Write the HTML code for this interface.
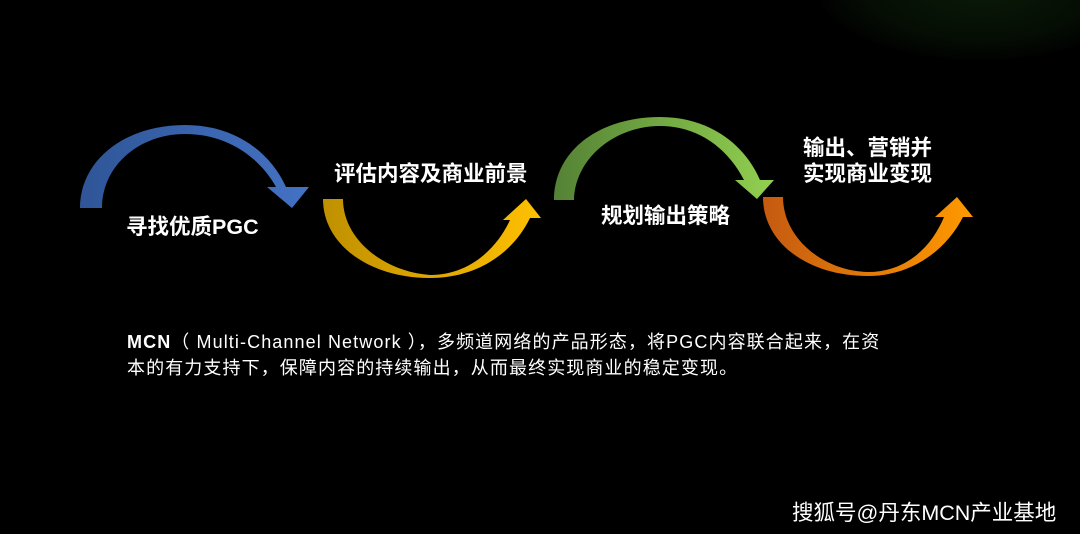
<!DOCTYPE html>
<html><head><meta charset="utf-8"><style>
body{margin:0;width:1080px;height:534px;background:#000;overflow:hidden;position:relative;font-family:"Liberation Sans","Noto Sans CJK SC",sans-serif;color:#fff}
.glow{position:absolute;left:820px;top:-80px;width:320px;height:140px;border-radius:50%;background:radial-gradient(ellipse at center,#0a1a08 0%,#050d04 50%,rgba(0,0,0,0) 75%)}
.t{position:absolute;font-weight:bold;font-size:21.5px;white-space:nowrap;line-height:26px}
.p{position:absolute;left:127px;top:329px;font-size:18px;letter-spacing:1.1px;line-height:26px;color:#fff;white-space:nowrap}
.w{position:absolute;left:792px;top:496px;font-size:21.5px;color:#fff}
</style></head><body>
<div class="glow"></div>
<svg width="1080" height="534" style="position:absolute;left:0;top:0">
<defs>
<linearGradient id="b" x1="0" x2="1"><stop offset="0" stop-color="#2f5597"/><stop offset="1" stop-color="#4472c4"/></linearGradient>
<linearGradient id="y" x1="0" x2="1"><stop offset="0" stop-color="#bf9000"/><stop offset="1" stop-color="#ffc000"/></linearGradient>
<linearGradient id="g" x1="0" x2="1"><stop offset="0" stop-color="#548235"/><stop offset="1" stop-color="#92d050"/></linearGradient>
<linearGradient id="o" x1="0" x2="1"><stop offset="0" stop-color="#c55a11"/><stop offset="1" stop-color="#ff9900"/></linearGradient>
</defs>
<path fill="url(#b)" d="M80,208 C80,160 125,125 185,125 C235,125 270,152 286,187 L309,187 L292,208 L267,187 L276,187 C258,155 225,134 185,134 C140,134 102,165 102,208 Z"/>
<path fill="url(#y)" d="M323,199 L343,199 C343,240 385,272 430,275 C470,275 497,248 510,220 L503,220 L526,199 L541,218 L530,218 C512,255 475,278 430,278 C370,278 323,245 323,199 Z"/>
<path fill="url(#g)" d="M554,200 C554,150 600,117 660,117 C710,117 745,145 760,180 L774,180 L757,199 L735,180 L744,180 C727,147 697,126 660,126 C615,126 575,158 574,200 Z"/>
<path fill="url(#o)" d="M763,197 L783,197 C783,238 823,271 868,272 C907,272 932,246 944,217 L935,217 L957,197 L973,217 L963,217 C945,252 910,276 868,276 C808,276 763,243 763,197 Z"/>
</svg>
<div class="t" style="left:126px;top:214px">寻找优质PGC</div>
<div class="t" style="left:334px;top:161px">评估内容及商业前景</div>
<div class="t" style="left:601px;top:203px">规划输出策略</div>
<div class="t" style="left:803px;top:135px">输出、营销并<br>实现商业变现</div>
<div class="p"><b>MCN</b>（ Multi-Channel Network ），多频道网络的产品形态，将PGC内容联合起来，在资<br>本的有力支持下，保障内容的持续输出，从而最终实现商业的稳定变现。</div>
<div class="w">搜狐号@丹东MCN产业基地</div>
</body></html>
